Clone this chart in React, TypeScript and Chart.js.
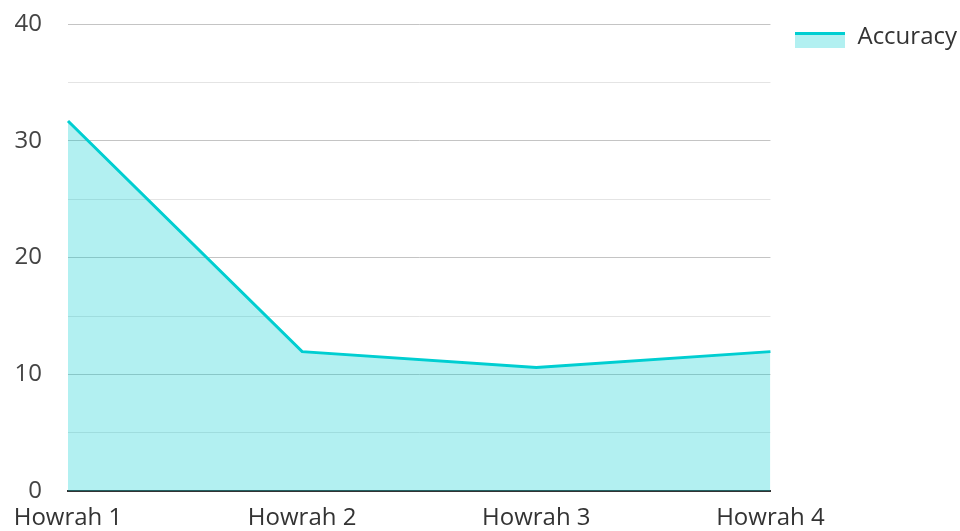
import React, { useEffect, useRef } from "react";
import { Chart, registerables } from "chart.js";

Chart.register(...registerables);

const categories = ["Howrah 1", "Howrah 2", "Howrah 3", "Howrah 4"];
const accuracy = [31.7, 11.95, 10.6, 11.95];
const seriesName = "Accuracy";
const yMin = 0;
const yMax = 40;
const yStep = 5;

const LINE = "rgb(0,206,209)";
const FILL = "rgba(0,206,209,0.3)";
const FONT = "'Open Sans'";
const FS = 24;

function makeLegendImage(): HTMLCanvasElement {
  const c = document.createElement("canvas");
  c.width = 50;
  c.height = 24;
  const g = c.getContext("2d")!;
  g.fillStyle = FILL;
  g.fillRect(0, 7, 50, 16);
  g.fillStyle = LINE;
  g.fillRect(0, 7, 50, 3);
  return c;
}

export default function App() {
  const ref = useRef<HTMLCanvasElement | null>(null);
  useEffect(() => {
    if (!ref.current) return;
    const img = makeLegendImage();
    const chart = new Chart(ref.current, {
      type: "line",
      data: {
        labels: categories,
        datasets: [
          {
            label: seriesName,
            data: accuracy,
            borderColor: LINE,
            backgroundColor: FILL,
            borderWidth: 3,
            fill: "origin",
            pointRadius: 0,
            tension: 0,
            pointStyle: img as any,
          },
        ],
      },
      options: {
        animation: false,
        responsive: true,
        maintainAspectRatio: false,
        layout: { padding: { left: 0, top: 0, right: -7, bottom: 0 } },
        plugins: {
          tooltip: { enabled: false },
          legend: {
            position: "right",
            align: "start",
            labels: {
              usePointStyle: true,
              pointStyleWidth: 50,
              boxHeight: 16,
              color: "#333",
              font: { family: FONT, size: FS },
              padding: 25,
            },
          },
        },
        scales: {
          x: {
            offset: false,
            grid: { display: false, drawTicks: false },
            border: { display: true, color: "#333", width: 2 },
            ticks: {
              color: "#333",
              font: { family: FONT, size: FS },
              padding: 13,
              maxRotation: 0,
              autoSkip: false,
            },
          },
          y: {
            min: yMin,
            max: yMax,
            afterFit: (scale: any) => {
              scale.width = 68;
              scale.paddingTop = 24;
            },
            grid: {
              drawTicks: false,
              color: (ctx: any) =>
                ctx.tick && ctx.tick.value % 10 === 0 ? "#c4c4c4" : "#e4e4e4",
              lineWidth: 1,
            },
            border: { display: false },
            ticks: {
              stepSize: yStep,
              color: "#444",
              font: { family: FONT, size: FS },
              padding: 26,
              callback: (v: any) => (Number(v) % 10 === 0 ? String(v) : ""),
            },
          },
        },
      },
    });
    return () => chart.destroy();
  }, []);
  return (
    <div
      style={{
        position: "fixed",
        left: 0,
        top: 0,
        width: 960,
        height: 531,
        overflow: "hidden",
        background: "#fff",
      }}
    >
      <div style={{ position: "relative", width: 960, height: 546 }}>
        <canvas ref={ref} />
      </div>
    </div>
  );
}
